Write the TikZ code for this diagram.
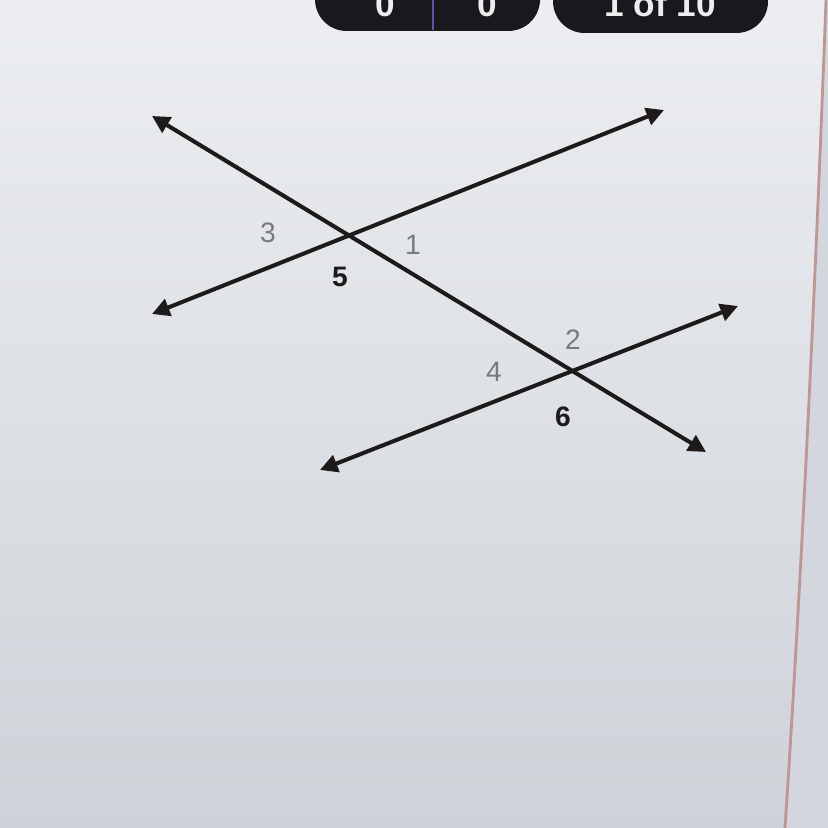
\documentclass[tikz,border=0pt]{standalone}
\usepackage{fontspec}
\setmainfont{Liberation Sans}
\usetikzlibrary{arrows.meta}
\definecolor{bgtop}{RGB}{236,238,241}
\definecolor{bgbot}{RGB}{206,210,216}
\definecolor{tab}{RGB}{24,24,30}
\definecolor{ink}{RGB}{30,26,26}
\definecolor{lbl}{RGB}{120,122,126}
\definecolor{edge}{RGB}{190,150,150}
\tikzset{
  ray/.style={ink, line width=1.15pt, {Triangle[length=5pt,width=5pt]}-{Triangle[length=5pt,width=5pt]}},
  soft/.style={font=\fontsize{8}{9}\selectfont, text=lbl, inner sep=0pt},
  hard/.style={font=\fontsize{8}{9}\selectfont\bfseries, text=ink, inner sep=0pt},
  tabbox/.style={fill=tab, rounded corners=9pt},
  tabtext/.style={font=\fontsize{10}{11}\selectfont\bfseries, text=white!85!gray, inner sep=0pt}
}
\begin{document}
\begin{tikzpicture}[x=0.01cm,y=-0.01cm]
\useasboundingbox (0,0) rectangle (828,828);
\clip (0,0) rectangle (828,828);
% background
\shade[top color=bgtop, bottom color=bgbot] (0,0) rectangle (828,828);
\fill[bgbot!90!white] (826,0) .. controls (815,300) and (800,600) .. (785,828) -- (828,828) -- (828,0) -- cycle;
\draw[edge, line width=0.8pt] (826,0) .. controls (815,300) and (800,600) .. (785,828);
% top tabs
\fill[tabbox] (315,-30) rectangle (540,31);
\fill[tabbox] (553,-30) rectangle (768,33);
\draw[gray!70!blue, line width=0.6pt] (433,0) -- (433,30);
\node[tabtext] (t1) at (385,4) {0};
\node[tabtext] (t2) at (487,4) {0};
\node[tabtext] (t3) at (660,4) {1 of 10};
% lines
\coordinate (A1) at (152,116);
\coordinate (A2) at (706,452);
\coordinate (B1) at (152,314);
\coordinate (B2) at (664,110);
\coordinate (C1) at (320,470);
\coordinate (C2) at (738,306);
\draw[ray] (A1) -- (A2);
\draw[ray] (B1) -- (B2);
\draw[ray] (C1) -- (C2);
% labels
\node[soft] (l3) at (268,233) {3};
\node[soft] (l1) at (413,245) {1};
\node[hard] (l5) at (340,277) {5};
\node[soft] (l2) at (573,340) {2};
\node[soft] (l4) at (494,372) {4};
\node[hard] (l6) at (563,417) {6};
\end{tikzpicture}
\end{document}
